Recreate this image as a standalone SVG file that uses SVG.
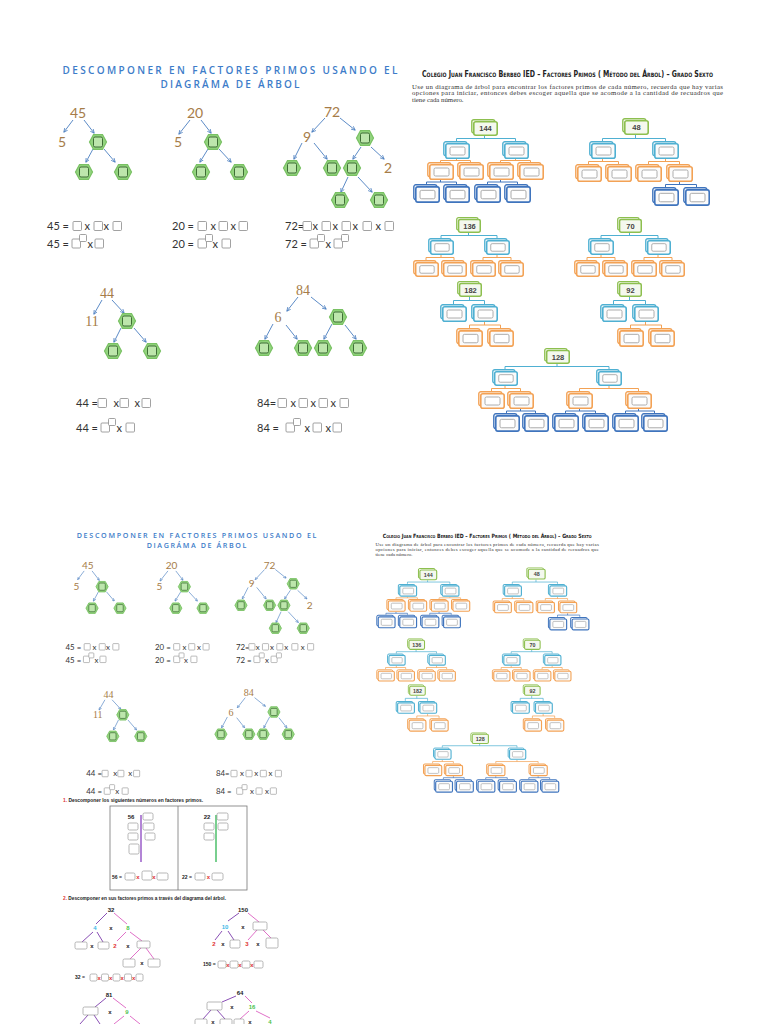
<svg xmlns="http://www.w3.org/2000/svg" xmlns:xlink="http://www.w3.org/1999/xlink" width="768" height="1024" viewBox="0 0 768 1024">
<style>
.ttl{font-family:"Open Sans","Liberation Sans",sans-serif;font-weight:600;font-size:10px;fill:#3d7cc9;text-anchor:middle}
.num{font-family:"Lato","Open Sans",sans-serif;font-size:14px;fill:#a67c48;text-anchor:middle}
.nums{font-family:"Liberation Serif",serif;font-size:14px;fill:#a67c48;text-anchor:middle}
.arr{stroke:#4a7ec0;stroke-width:0.9;fill:none;marker-end:url(#ah)}
.eq{font-family:"Lato","Open Sans",sans-serif;font-size:11px;fill:#333}
.hd{font-family:"DejaVu Sans Condensed","DejaVu Sans",sans-serif;font-weight:bold;font-size:8px;fill:#222;font-variant:small-caps}
.par{font-family:"Liberation Serif",serif;font-size:6.8px;fill:#333}
.lbl{font-family:"Liberation Sans",sans-serif;font-weight:bold;font-size:7.5px;fill:#444;text-anchor:middle}
.lb{color:#4fb0d2}.or{color:#f3a255}.db{color:#3f74bd}.gr{color:#8dbf4f}
.cb{fill:none;stroke:#4fb0d2;stroke-width:1}.co{fill:none;stroke:#f3a255;stroke-width:1}.cd{fill:none;stroke:#3f74bd;stroke-width:1}
.sm{font-family:"Liberation Sans",sans-serif;font-weight:bold;font-size:5px;fill:#222}
.smc{font-family:"Liberation Sans",sans-serif;font-weight:bold;font-size:6px;text-anchor:middle}
.bxs{fill:#fff;stroke:#999;stroke-width:0.7}
.pu{stroke:#8a4fb5;stroke-width:1;fill:none}.pk{stroke:#e070c8;stroke-width:1;fill:none}
</style>
<defs>
<marker id="ah" viewBox="0 0 6 6" refX="5" refY="3" markerWidth="5" markerHeight="5" orient="auto"><path d="M0,0.5 L5.5,3 L0,5.5" fill="none" stroke="#4a7ec0" stroke-width="1"/></marker>
<g id="hx"><polygon points="-8.5,0 -4.5,-7.3 4.5,-7.3 8.5,0 4.5,7.3 -4.5,7.3" fill="#93d47e" stroke="#79c163" stroke-width="1.2"/><rect x="-4.5" y="-5" width="9" height="10" rx="1.5" fill="#bde6ac" stroke="#3f6f36" stroke-width="1"/></g>
<rect id="eb" width="8.5" height="9" rx="1" fill="#fff" stroke="#8a8a8a" stroke-width="0.8"/>
<g id="sb"><use href="#eb"/><rect x="7.5" y="-4.5" width="7" height="7" rx="1" fill="#fff" stroke="#8a8a8a" stroke-width="0.8"/></g>
<symbol id="bx" viewBox="0 0 27 18" preserveAspectRatio="none" overflow="visible">
<rect x="0.8" y="0.8" width="23" height="14" rx="2" fill="#fff" stroke="currentColor" stroke-width="1.4"/>
<rect x="2.8" y="2.8" width="23.4" height="14.4" rx="2" fill="#fbfbfb" stroke="currentColor" stroke-width="1.6"/>
<rect x="7" y="6" width="15" height="8" rx="1.5" fill="#fff" stroke="#9a9a9a" stroke-width="0.8"/>
</symbol>
<symbol id="gb" viewBox="0 0 27 18" preserveAspectRatio="none" overflow="visible">
<rect x="0.8" y="0.8" width="23" height="14" rx="2" fill="#fff" stroke="currentColor" stroke-width="1.4"/>
<rect x="2.8" y="2.8" width="23.4" height="14.4" rx="2" fill="#f4f8ee" stroke="currentColor" stroke-width="1.6"/>
</symbol>
</defs>
<rect width="768" height="1024" fill="#fff"/>

<g id="panelL">
<g id="title">
<text class="ttl" x="230" y="74" textLength="335" lengthAdjust="spacing">DESCOMPONER EN FACTORES PRIMOS USANDO EL</text>
<text class="ttl" x="230" y="87.5" textLength="139" lengthAdjust="spacing">DIAGRÁMA DE ÁRBOL</text>
</g>
<g id="tree45">
<g class="connectors"><path class="arr" d="M73 120 L64 132"/><path class="arr" d="M84 120 L94 133"/><path class="arr" d="M93 149 L86 162"/><path class="arr" d="M104 149 L115 162"/></g>
<text class="num" x="78" y="118">45</text><text class="num" x="62" y="147">5</text>
<use href="#hx" x="98" y="142"/><use href="#hx" x="84" y="172"/><use href="#hx" x="123" y="172"/>
</g>
<g id="tree20">
<g class="connectors"><path class="arr" d="M190 120 L179 134"/><path class="arr" d="M201 120 L211 133"/><path class="arr" d="M208 149 L200 162"/><path class="arr" d="M219 149 L231 162"/></g>
<text class="num" x="195" y="118">20</text><text class="num" x="178" y="147">5</text>
<use href="#hx" x="213" y="142"/><use href="#hx" x="201" y="172"/><use href="#hx" x="239" y="172"/>
</g>
<g id="tree72">
<g class="connectors"><path class="arr" d="M325 118 L312 132"/><path class="arr" d="M340 118 L355 130"/><path class="arr" d="M302 143 L294 159"/><path class="arr" d="M314 143 L327 159"/><path class="arr" d="M361 147 L353 159"/><path class="arr" d="M371 147 L384 159"/><path class="arr" d="M348 177 L341 192"/><path class="arr" d="M358 177 L372 192"/></g>
<text class="num" x="332" y="117">72</text><text class="num" x="307" y="142">9</text><text class="num" x="388" y="173">2</text>
<use href="#hx" x="365" y="138"/><use href="#hx" x="292" y="168"/><use href="#hx" x="332" y="168"/><use href="#hx" x="352" y="168"/><use href="#hx" x="340" y="200"/><use href="#hx" x="379" y="200"/>
</g>
<g id="eqs1">
<text class="eq" x="47" y="230">45 =</text><use href="#eb" x="73" y="221.5"/><text class="eq" x="84.5" y="230">x</text><use href="#eb" x="94" y="221.5"/><text class="eq" x="103.5" y="230">x</text><use href="#eb" x="113" y="221.5"/>
<text class="eq" x="47" y="248">45 =</text><use href="#sb" x="72" y="239"/><text class="eq" x="87.5" y="248">x</text><use href="#eb" x="95" y="239"/>
<text class="eq" x="172" y="230">20 =</text><use href="#eb" x="198" y="221.5"/><text class="eq" x="210.5" y="230">x</text><use href="#eb" x="219" y="221.5"/><text class="eq" x="230.5" y="230">x</text><use href="#eb" x="239" y="221.5"/>
<text class="eq" x="172" y="248">20 =</text><use href="#sb" x="198" y="239"/><text class="eq" x="212.5" y="248">x</text><use href="#eb" x="222" y="239"/>
<text class="eq" x="285" y="230">72=</text><use href="#eb" x="303" y="221.5"/><text class="eq" x="312.5" y="230">x</text><use href="#eb" x="322" y="221.5"/><text class="eq" x="332.5" y="230">x</text><use href="#eb" x="342" y="221.5"/><text class="eq" x="352.5" y="230">x</text><use href="#eb" x="363" y="221.5"/><text class="eq" x="375.5" y="230">x</text><use href="#eb" x="385" y="221.5"/>
<text class="eq" x="285" y="248">72 =</text><use href="#sb" x="310" y="239"/><text class="eq" x="325.5" y="248">x</text><use href="#sb" x="334" y="239"/>
</g>
<g id="tree44">
<g class="connectors"><path class="arr" d="M102 300 L94 314"/><path class="arr" d="M112 300 L124 313"/><path class="arr" d="M121 328 L114 342"/><path class="arr" d="M134 328 L146 342"/></g>
<text class="nums" x="107" y="298">44</text><text class="nums" x="92" y="326">11</text>
<use href="#hx" x="127" y="321"/><use href="#hx" x="113" y="351"/><use href="#hx" x="152" y="351"/>
</g>
<g id="tree84">
<g class="connectors"><path class="arr" d="M298 297 L287 311"/><path class="arr" d="M311 297 L326 309"/><path class="arr" d="M273 324 L265 339"/><path class="arr" d="M286 325 L297 339"/><path class="arr" d="M332 324 L324 339"/><path class="arr" d="M345 325 L356 339"/></g>
<text class="nums" x="303" y="295">84</text><text class="nums" x="278" y="322">6</text>
<use href="#hx" x="338" y="317"/><use href="#hx" x="264" y="348"/><use href="#hx" x="303" y="348"/><use href="#hx" x="323" y="348"/><use href="#hx" x="358" y="348"/>
</g>
<g id="eqs2">
<text class="eq" x="76" y="407">44 =</text><use href="#eb" x="98" y="398.5"/><text class="eq" x="113.5" y="407">x</text><use href="#eb" x="120" y="398.5"/><text class="eq" x="134.5" y="407">x</text><use href="#eb" x="142" y="398.5"/>
<text class="eq" x="76" y="432">44 =</text><use href="#sb" x="101" y="423"/><text class="eq" x="116.5" y="432">x</text><use href="#eb" x="126" y="423"/>
<text class="eq" x="257" y="407">84=</text><use href="#eb" x="278" y="398.5"/><text class="eq" x="290.5" y="407">x</text><use href="#eb" x="299" y="398.5"/><text class="eq" x="310.5" y="407">x</text><use href="#eb" x="319" y="398.5"/><text class="eq" x="330.5" y="407">x</text><use href="#eb" x="340" y="398.5"/>
<text class="eq" x="257" y="432">84 =</text><use href="#sb" x="286" y="423"/><text class="eq" x="304.5" y="432">x</text><use href="#eb" x="313" y="423"/><text class="eq" x="325.5" y="432">x</text><use href="#eb" x="333" y="423"/>
</g>
</g>

<g id="panelR">
<text class="hd" x="422" y="76.5" textLength="291" lengthAdjust="spacingAndGlyphs">Colegio Juan Francisco Berbeo IED – Factores Primos ( Método del Árbol)  – Grado Sexto</text>
<text class="par" x="412" y="88.5" textLength="311" lengthAdjust="spacing">Use un diagrama de árbol para encontrar los factores primos de cada número, recuerda que hay varias</text>
<text class="par" x="412" y="95.2" textLength="311" lengthAdjust="spacing">opciones para iniciar, entonces debes escoger aquella que se acomode a la cantidad de recuadros que</text>
<text class="par" x="412" y="102">tiene cada número.</text>
<g id="t144">
<g class="connectors"><path class="cb" d="M484.5 136 V138.5 M456.5 141 V138.5 H515.5 V141"/><path class="co" d="M456.5 159 V160.5 M440.5 162 V160.5 H470.5 V162 M515.5 159 V160.5 M500.5 162 V160.5 H530.5 V162"/><path class="cd" d="M440.5 180 V182 M426.5 184 V182 H456.5 V184 M500.5 180 V182 M487.5 184 V182 H517.5 V184"/></g>
<use href="#gb" class="gr" x="471" y="119" width="27" height="17"/><text class="lbl" x="485.5" y="131">144</text>
<use href="#bx" class="lb" x="443" y="141" width="27" height="18"/><use href="#bx" class="lb" x="502" y="141" width="27" height="18"/>
<use href="#bx" class="or" x="427" y="162" width="27" height="18"/><use href="#bx" class="or" x="457" y="162" width="27" height="18"/><use href="#bx" class="or" x="487" y="162" width="27" height="18"/><use href="#bx" class="or" x="517" y="162" width="27" height="18"/>
<use href="#bx" class="db" x="413" y="184" width="27" height="19"/><use href="#bx" class="db" x="443" y="184" width="27" height="19"/><use href="#bx" class="db" x="474" y="184" width="27" height="19"/><use href="#bx" class="db" x="504" y="184" width="27" height="19"/>
</g>
<g id="t48">
<g class="connectors"><path class="cb" d="M635.5 135 V138.5 M602.5 141 V138.5 H665.5 V141"/><path class="co" d="M602.5 159 V161.5 M588.5 164 V161.5 H618.5 V164 M665.5 159 V161.5 M648.5 164 V161.5 H679.5 V164"/><path class="cd" d="M679.5 182 V184.5 M665.5 187 V184.5 H696.5 V187"/></g>
<use href="#gb" class="gr" x="622" y="118" width="27" height="17"/><text class="lbl" x="636.5" y="130">48</text>
<use href="#bx" class="lb" x="589" y="141" width="27" height="18"/><use href="#bx" class="lb" x="652" y="141" width="27" height="18"/>
<use href="#bx" class="or" x="575" y="164" width="27" height="18"/><use href="#bx" class="or" x="605" y="164" width="27" height="18"/><use href="#bx" class="or" x="635" y="164" width="27" height="18"/><use href="#bx" class="or" x="666" y="164" width="27" height="18"/>
<use href="#bx" class="db" x="652" y="187" width="27" height="19"/><use href="#bx" class="db" x="683" y="187" width="27" height="19"/>
</g>
<g id="t136">
<g class="connectors"><path class="cb" d="M468.5 233 V235.5 M441 238 V235.5 H497 V238"/><path class="co" d="M441 255 V257.5 M426 260 V257.5 H454 V260 M497 255 V257.5 M483 260 V257.5 H511 V260"/></g>
<use href="#gb" class="gr" x="456" y="217" width="25" height="16"/><text class="lbl" x="469.5" y="228.5">136</text>
<use href="#bx" class="lb" x="428" y="238" width="26" height="17"/><use href="#bx" class="lb" x="484" y="238" width="26" height="17"/>
<use href="#bx" class="or" x="413" y="260" width="26" height="17"/><use href="#bx" class="or" x="441" y="260" width="26" height="17"/><use href="#bx" class="or" x="470" y="260" width="26" height="17"/><use href="#bx" class="or" x="498" y="260" width="26" height="17"/>
</g>
<g id="t70">
<g class="connectors"><path class="cb" d="M629.5 233 V235.5 M601 238 V235.5 H658 V238"/><path class="co" d="M601 255 V257.5 M587 260 V257.5 H615 V260 M658 255 V257.5 M644 260 V257.5 H672 V260"/></g>
<use href="#gb" class="gr" x="617" y="217" width="25" height="16"/><text class="lbl" x="630.5" y="228.5">70</text>
<use href="#bx" class="lb" x="588" y="238" width="26" height="17"/><use href="#bx" class="lb" x="645" y="238" width="26" height="17"/>
<use href="#bx" class="or" x="574" y="260" width="26" height="17"/><use href="#bx" class="or" x="602" y="260" width="26" height="17"/><use href="#bx" class="or" x="631" y="260" width="26" height="17"/><use href="#bx" class="or" x="659" y="260" width="26" height="17"/>
</g>
<g id="t182">
<g class="connectors"><path class="cb" d="M469.5 297 V300.5 M453.5 304 V300.5 H484.5 V304"/><path class="co" d="M484.5 322 V325 M469.5 328 V325 H500.5 V328"/></g>
<use href="#gb" class="gr" x="457" y="281" width="25" height="16"/><text class="lbl" x="470.5" y="292.5">182</text>
<use href="#bx" class="lb" x="440" y="304" width="27" height="18"/><use href="#bx" class="lb" x="471" y="304" width="27" height="18"/>
<use href="#bx" class="or" x="456" y="328" width="27" height="19"/><use href="#bx" class="or" x="487" y="328" width="27" height="19"/>
</g>
<g id="t92">
<g class="connectors"><path class="cb" d="M629.5 297 V300.5 M613.5 304 V300.5 H645.5 V304"/><path class="co" d="M645.5 322 V325 M630.5 328 V325 H661.5 V328"/></g>
<use href="#gb" class="gr" x="617" y="281" width="25" height="16"/><text class="lbl" x="630.5" y="292.5">92</text>
<use href="#bx" class="lb" x="600" y="304" width="27" height="18"/><use href="#bx" class="lb" x="632" y="304" width="27" height="18"/>
<use href="#bx" class="or" x="617" y="328" width="27" height="19"/><use href="#bx" class="or" x="648" y="328" width="27" height="19"/>
</g>
<g id="t128">
<g class="connectors"><path class="cb" d="M557 364 V366.5 M505 369 V366.5 H609 V369"/><path class="co" d="M505 386 V388.5 M491.5 391 V388.5 H520.5 V391 M609 386 V388.5 M579.5 391 V388.5 H638.5 V391"/><path class="cd" d="M520.5 409 V411 M506.5 413 V411 H535.5 V413 M579.5 409 V411 M565.5 413 V411 H595.5 V413 M638.5 409 V411 M625.5 413 V411 H654.5 V413"/></g>
<use href="#gb" class="gr" x="544" y="348" width="26" height="16"/><text class="lbl" x="558" y="359.5">128</text>
<use href="#bx" class="lb" x="492" y="369" width="26" height="17"/><use href="#bx" class="lb" x="596" y="369" width="26" height="17"/>
<use href="#bx" class="or" x="478" y="391" width="27" height="18"/><use href="#bx" class="or" x="507" y="391" width="27" height="18"/><use href="#bx" class="or" x="566" y="391" width="27" height="18"/><use href="#bx" class="or" x="625" y="391" width="27" height="18"/>
<use href="#bx" class="db" x="493" y="413" width="27" height="19"/><use href="#bx" class="db" x="522" y="413" width="27" height="19"/><use href="#bx" class="db" x="552" y="413" width="27" height="19"/><use href="#bx" class="db" x="582" y="413" width="27" height="19"/><use href="#bx" class="db" x="612" y="413" width="27" height="19"/><use href="#bx" class="db" x="641" y="413" width="27" height="19"/>
</g>
</g>

<use id="panelL2" href="#panelL" transform="translate(31.9 485) scale(0.716)"/>
<use id="panelR2" href="#panelR" transform="translate(79.7 482.6) scale(0.718)"/>

<g id="ex1">
<text class="sm" x="63" y="802" textLength="140" lengthAdjust="spacingAndGlyphs"><tspan fill="#d33">1.</tspan> Descomponer los siguientes números en factores primos.</text>
<rect x="110" y="806" width="137" height="84" fill="none" stroke="#777" stroke-width="0.8"/>
<line x1="178" y1="806" x2="178" y2="890" stroke="#777" stroke-width="0.8"/>
<text class="smc" x="131" y="819" fill="#222">56</text>
<line x1="141" y1="815" x2="141" y2="862" stroke="#9a5cc8" stroke-width="1.5"/>
<rect class="bxs" x="143" y="813" width="10" height="7" rx="1.5"/><rect class="bxs" x="128" y="823" width="10" height="7" rx="1.5"/><rect class="bxs" x="143" y="823" width="11" height="7" rx="1.5"/><rect class="bxs" x="128" y="833" width="10" height="7" rx="1.5"/><rect class="bxs" x="145" y="833" width="10" height="7" rx="1.5"/><rect class="bxs" x="129" y="844" width="10" height="10" rx="1.5"/>
<text class="sm" x="112" y="879">56 =</text>
<rect class="bxs" x="125" y="873" width="10" height="7" rx="1.5"/><text class="smc" x="138" y="879" fill="#e03030">x</text><rect class="bxs" x="142" y="871" width="10" height="9" rx="1.5"/><text class="smc" x="154" y="879" fill="#e03030">x</text><rect class="bxs" x="157" y="873" width="11" height="7" rx="1.5"/>
<text class="smc" x="207" y="819" fill="#222">22</text>
<line x1="216" y1="815" x2="216" y2="862" stroke="#4cbf6a" stroke-width="1.5"/>
<rect class="bxs" x="217" y="813" width="11" height="7" rx="1.5"/><rect class="bxs" x="204" y="823" width="10" height="7" rx="1.5"/><rect class="bxs" x="218" y="823" width="10" height="7" rx="1.5"/><rect class="bxs" x="204" y="833" width="10" height="7" rx="1.5"/>
<text class="sm" x="182" y="879">22 =</text>
<rect class="bxs" x="195" y="873" width="10" height="7" rx="1.5"/><text class="smc" x="208.5" y="879" fill="#e03030">x</text><rect class="bxs" x="212" y="873" width="11" height="7" rx="1.5"/>
</g>

<g id="ex2">
<text class="sm" x="63" y="900" textLength="163" lengthAdjust="spacingAndGlyphs"><tspan fill="#d33">2.</tspan> Descomponer en sus factores primos a través del diagrama del árbol.</text>
<g id="t32">
<path class="pu" d="M107 913 L96 924 M93 932 L82 942 M97 932 L103 942"/>
<path class="pk" d="M114 913 L127 924 M126 932 L117 941 M130 932 L142 941 M141 948 L130 959 M146 948 L154 959"/>
<text class="smc" x="111" y="912" fill="#222">32</text>
<text class="smc" x="95" y="930" fill="#3cb8e8">4</text><text class="smc" x="111" y="930" fill="#222">x</text><text class="smc" x="128" y="930" fill="#4cc24c">8</text>
<rect class="bxs" x="75" y="942" width="12" height="7" rx="1.5"/><text class="smc" x="92" y="948" fill="#222">x</text><rect class="bxs" x="98" y="942" width="11" height="7" rx="1.5"/>
<text class="smc" x="115" y="948" fill="#e03030">2</text><text class="smc" x="128" y="948" fill="#222">x</text><rect class="bxs" x="137" y="941" width="13" height="7" rx="1.5"/>
<rect class="bxs" x="123" y="959" width="12" height="8" rx="1.5"/><text class="smc" x="142" y="965" fill="#222">x</text><rect class="bxs" x="148" y="959" width="12" height="8" rx="1.5"/>
<text class="sm" x="75" y="979">32 =</text>
<rect class="bxs" x="90" y="974" width="7" height="7" rx="1.5"/><text class="smc" x="99.25" y="979.5" fill="#e03030">x</text><rect class="bxs" x="101.5" y="974" width="7" height="7" rx="1.5"/><text class="smc" x="110.75" y="979.5" fill="#e03030">x</text><rect class="bxs" x="113" y="974" width="7" height="7" rx="1.5"/><text class="smc" x="122.25" y="979.5" fill="#e03030">x</text><rect class="bxs" x="124.5" y="974" width="7" height="7" rx="1.5"/><text class="smc" x="133.75" y="979.5" fill="#e03030">x</text><rect class="bxs" x="136" y="974" width="7" height="7" rx="1.5"/>
</g>
<g id="t150">
<path class="pu" d="M239 913 L228 921 M222 931 L215 940 M228 931 L234 940"/>
<path class="pk" d="M248 913 L259 922 M257 930 L248 940 M263 930 L271 938"/>
<text class="smc" x="243" y="912" fill="#222">150</text>
<text class="smc" x="225" y="929" fill="#3cb8e8">10</text><text class="smc" x="243" y="929" fill="#222">x</text><rect class="bxs" x="253" y="922" width="14" height="8" rx="1.5"/>
<text class="smc" x="214" y="946" fill="#e03030">2</text><text class="smc" x="223" y="946" fill="#222">x</text><rect class="bxs" x="230" y="940" width="10" height="8" rx="1.5"/>
<text class="smc" x="247" y="946" fill="#e03030">3</text><text class="smc" x="258" y="946" fill="#222">x</text><rect class="bxs" x="266" y="938" width="12" height="10" rx="1.5"/>
<text class="sm" x="203" y="966">150 =</text>
<rect class="bxs" x="218" y="961" width="8" height="7" rx="1.5"/><text class="smc" x="228" y="966.5" fill="#e03030">x</text><rect class="bxs" x="230" y="961" width="8" height="7" rx="1.5"/><text class="smc" x="240" y="966.5" fill="#e03030">x</text><rect class="bxs" x="242" y="961" width="8" height="7" rx="1.5"/><text class="smc" x="252" y="966.5" fill="#e03030">x</text><rect class="bxs" x="254" y="961" width="9" height="7" rx="1.5"/>
</g>
<g id="t81">
<path class="pu" d="M106 998 L95 1007 M88 1015 L80 1024 M94 1015 L100 1024"/>
<path class="pk" d="M113 998 L126 1008 M124 1016 L114 1024 M130 1016 L140 1024"/>
<text class="smc" x="109" y="997" fill="#222">81</text>
<rect class="bxs" x="83" y="1007" width="15" height="8" rx="1.5"/><text class="smc" x="110" y="1014" fill="#222">x</text><text class="smc" x="127" y="1014" fill="#4cc24c">9</text>
</g>
<g id="t64">
<path class="pu" d="M236 996 L222 1002 M211 1010 L203 1019 M217 1010 L225 1019"/>
<path class="pk" d="M245 996 L252 1003 M249 1011 L240 1019 M256 1011 L270 1018"/>
<text class="smc" x="240" y="995" fill="#222">64</text>
<rect class="bxs" x="207" y="1002" width="15" height="8" rx="1.5"/><text class="smc" x="232" y="1009" fill="#222">x</text><text class="smc" x="252" y="1009" fill="#4cc24c">16</text>
<rect class="bxs" x="195" y="1019" width="12" height="7" rx="1.5"/><text class="smc" x="213" y="1024" fill="#222">x</text><rect class="bxs" x="220" y="1019" width="12" height="7" rx="1.5"/><rect class="bxs" x="234" y="1019" width="10" height="7" rx="1.5"/><text class="smc" x="250" y="1024" fill="#222">x</text><text class="smc" x="270" y="1024" fill="#4cc24c">4</text>
</g>
</g>
</svg>
